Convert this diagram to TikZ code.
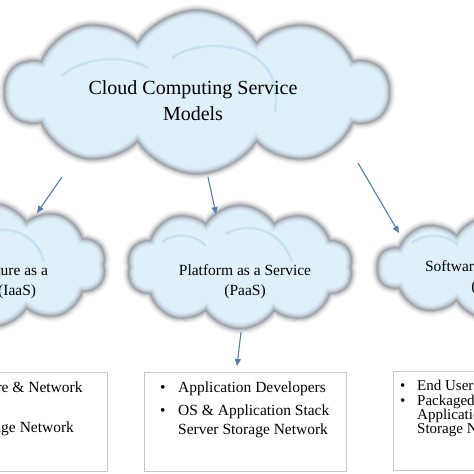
\documentclass[tikz,border=0pt]{standalone}
\usepackage{fontspec}
\setmainfont{Liberation Serif}
\usetikzlibrary{shapes.symbols,arrows.meta}
\definecolor{cloudfill}{RGB}{222,241,251}
\definecolor{cloudedge}{RGB}{110,110,115}
\definecolor{arrowblue}{RGB}{84,125,175}
\definecolor{boxedge}{RGB}{200,200,200}
\definecolor{arcblue}{RGB}{185,215,238}
\begin{document}
\begin{tikzpicture}[x=1pt,y=-1pt,
  cloudbox/.style={cloud, cloud puffs=10, cloud puff arc=115, aspect=2, inner sep=0pt,
    fill=cloudfill, draw=none,
    postaction={draw=cloudedge, line width=11pt, draw opacity=.07},
    postaction={draw=cloudedge, line width=8pt, draw opacity=.10},
    postaction={draw=cloudedge, line width=5.5pt, draw opacity=.16},
    postaction={draw=cloudedge, line width=3pt, draw opacity=.22},
    postaction={draw=cloudedge, line width=1.2pt, draw opacity=.25}},
  arcline/.style={draw=arcblue, line width=2.5pt, draw opacity=.6},
  arr/.style={draw=arrowblue, line width=1.1pt, -{Triangle[length=7pt,width=6pt]}},
  infobox/.style={draw=boxedge, line width=0.9pt, fill=white, inner sep=0pt},
  bigtxt/.style={font=\fontsize{20}{26}\selectfont, align=center, inner sep=0pt},
  midtxt/.style={font=\fontsize{15.5}{20}\selectfont, align=center, inner sep=0pt},
  itemtxt/.style={font=\fontsize{15.5}{19}\selectfont, anchor=base west, inner sep=0pt},
  smalltxt/.style={font=\fontsize{15}{14}\selectfont, anchor=base west, inner sep=0pt},
]
\useasboundingbox (0,0) rectangle (474,474);
\fill[white] (0,0) rectangle (474,474);
\clip (0,0) rectangle (474,474);

% clouds
\node[cloudbox, minimum width=384pt, minimum height=164pt] (main) at (197,92) {};
\node[cloudbox, minimum width=228pt, minimum height=124pt] (iaas) at (-8,265) {};
\node[cloudbox, minimum width=226pt, minimum height=124pt] (paas) at (240,267) {};
\node[cloudbox, minimum width=230pt, minimum height=104pt] (saas) at (492,268) {};

% faint inner arcs
\draw[arcline] (62,76) .. controls (82,57) and (125,54) .. (148,68);
\draw[arcline] (172,58) .. controls (200,38) and (258,42) .. (272,78) .. controls (277,92) .. (275,112);
\draw[arcline] (162,242) .. controls (175,232) and (195,234) .. (206,246);
\draw[arcline] (226,234) .. controls (245,222) and (280,226) .. (292,262);
\draw[arcline] (-10,232) .. controls (10,225) and (38,235) .. (44,262);
\draw[arcline] (412,243) .. controls (425,233) and (445,233) .. (458,245);

% cloud texts
\node[bigtxt] (maintxt) at (193,101) {Cloud Computing Service\\Models};
\node[midtxt] (iaastxt) at (-8,282) {Infrastructure as a\\Service (IaaS)};
\node[midtxt] (paastxt) at (245,282) {Platform as a Service\\(PaaS)};
\node[midtxt] (saastxt) at (492,278) {Software as a Service\\(SaaS)};

% boxes
\node[infobox, minimum width=202pt, minimum height=99pt] (ibox) at (6,421.5) {};
\node[infobox, minimum width=202pt, minimum height=99pt] (pbox) at (245,421.5) {};
\node[infobox, minimum width=202pt, minimum height=99pt] (sbox) at (494,420.5) {};

% box texts
\node[itemtxt] (ib1) at (-92,392) {\textbullet};
\node[itemtxt] (it1) at (-76,392) {Infrastructure \& Network};
\node[itemtxt] (it2) at (-76,411) {Architects};
\node[itemtxt] (ib2) at (-92,432) {\textbullet};
\node[itemtxt] (it3) at (-76,432) {Server Storage Network};

\node[itemtxt] (pb1) at (160,392) {\textbullet};
\node[itemtxt] (pt1) at (178,392) {Application Developers};
\node[itemtxt] (pb2) at (160,415) {\textbullet};
\node[itemtxt] (pt2) at (178,415) {OS \& Application Stack};
\node[itemtxt] (pt3) at (178,434) {Server Storage Network};

\node[smalltxt] (sb1) at (400,390) {\textbullet};
\node[smalltxt] (st1) at (417,390) {End Users};
\node[smalltxt] (sb2) at (400,405) {\textbullet};
\node[smalltxt] (st2) at (417,405) {Packaged Software};
\node[smalltxt] (st3) at (417,419) {Application Server};
\node[smalltxt] (st4) at (417,433) {Storage Network};

% arrows
\coordinate (a1) at (62,177);
\coordinate (b1) at (37,213);
\coordinate (a2) at (208,177);
\coordinate (b2) at (216,214);
\coordinate (a3) at (358,163);
\coordinate (b3) at (399,233);
\coordinate (a4) at (241,332);
\coordinate (b4) at (237,366);
\draw[arr] (a1) -- (b1);
\draw[arr] (a2) -- (b2);
\draw[arr] (a3) -- (b3);
\draw[arr] (a4) -- (b4);
\end{tikzpicture}
\end{document}
